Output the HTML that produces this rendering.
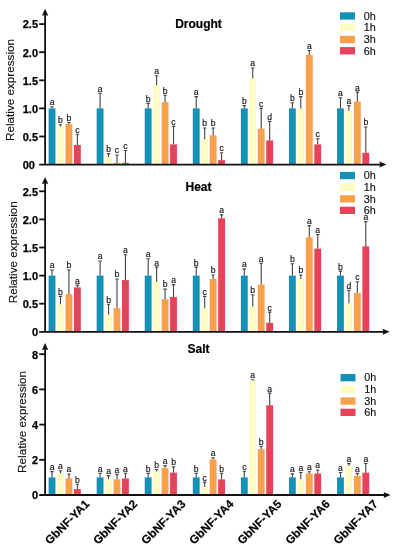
<!DOCTYPE html>
<html><head><meta charset="utf-8"><style>
html,body{margin:0;padding:0;background:#fff;width:398px;height:550px;overflow:hidden}
svg{display:block;will-change:transform}
text{font-family:"Liberation Sans",sans-serif}
.t{font-size:12px;font-weight:bold;text-anchor:middle;fill:#000;stroke:#000;stroke-width:0.2px}
.tk{font-size:11px;font-weight:bold;text-anchor:end;fill:#000;stroke:#000;stroke-width:0.25px}
.yl{font-size:11.7px;text-anchor:middle;fill:#111;stroke:#111;stroke-width:0.15px}
.xl{font-size:11.6px;font-weight:bold;text-anchor:end;fill:#000;stroke:#000;stroke-width:0.2px}
.lg{font-size:10.8px;fill:#111;stroke:#111;stroke-width:0.15px}
.l{font-size:8.6px;text-anchor:middle;fill:#111;stroke:#111;stroke-width:0.15px}
.e{stroke:#444;stroke-width:1.1;fill:none}
.ax{stroke:#111;stroke-width:1.8;fill:none}
.ah{fill:#111}
</style></head><body>
<svg width="398" height="550" viewBox="0 0 398 550">
<rect width="398" height="550" fill="#fff"/>
<text x="198.5" y="27.5" class="t">Drought</text>
<rect x="48.6" y="108.4" width="6.85" height="56.2" fill="#1591b6"/>
<path d="M52.02 108.4V106.71M50.32 106.71H53.73" class="e"/>
<text x="52.02" y="105.11" class="l">a</text>
<rect x="57.05" y="126.38" width="6.85" height="38.22" fill="#fefac3"/>
<path d="M60.47 126.38V124.7M58.77 124.7H62.17" class="e"/>
<text x="60.47" y="123.1" class="l">b</text>
<rect x="65.5" y="124.14" width="6.85" height="40.46" fill="#f9a04b"/>
<path d="M68.92 124.14V122.45M67.22 122.45H70.62" class="e"/>
<text x="68.92" y="120.85" class="l">b</text>
<rect x="73.95" y="144.93" width="6.85" height="19.67" fill="#e6435b"/>
<path d="M77.38 144.93V134.25M75.67 134.25H79.08" class="e"/>
<text x="77.38" y="132.65" class="l">c</text>
<rect x="96.67" y="108.4" width="6.85" height="56.2" fill="#1591b6"/>
<path d="M100.09 108.4V93.23M98.39 93.23H101.8" class="e"/>
<text x="100.09" y="91.63" class="l">a</text>
<rect x="105.12" y="156.96" width="6.85" height="7.64" fill="#fefac3"/>
<path d="M108.55 156.96V153.58M106.84 153.58H110.25" class="e"/>
<text x="108.55" y="151.98" class="l">b</text>
<rect x="113.57" y="162.91" width="6.85" height="1.69" fill="#f9a04b"/>
<path d="M116.99 162.91V155.05M115.29 155.05H118.69" class="e"/>
<text x="116.99" y="153.45" class="l">c</text>
<rect x="122.02" y="162.91" width="6.85" height="1.69" fill="#e6435b"/>
<path d="M125.44 162.91V150.55M123.74 150.55H127.14" class="e"/>
<text x="125.44" y="148.95" class="l">c</text>
<rect x="144.74" y="108.4" width="6.85" height="56.2" fill="#1591b6"/>
<path d="M148.17 108.4V103.34M146.47 103.34H149.87" class="e"/>
<text x="148.17" y="101.74" class="l">b</text>
<rect x="153.19" y="85.36" width="6.85" height="79.24" fill="#fefac3"/>
<path d="M156.62 85.36V75.8M154.92 75.8H158.31" class="e"/>
<text x="156.62" y="74.2" class="l">a</text>
<rect x="161.64" y="102.22" width="6.85" height="62.38" fill="#f9a04b"/>
<path d="M165.07 102.22V95.19M163.37 95.19H166.77" class="e"/>
<text x="165.07" y="93.59" class="l">b</text>
<rect x="170.09" y="144.37" width="6.85" height="20.23" fill="#e6435b"/>
<path d="M173.52 144.37V126.38M171.82 126.38H175.22" class="e"/>
<text x="173.52" y="124.78" class="l">c</text>
<rect x="192.81" y="108.4" width="6.85" height="56.2" fill="#1591b6"/>
<path d="M196.24 108.4V96.6M194.54 96.6H197.94" class="e"/>
<text x="196.24" y="95" class="l">a</text>
<rect x="201.26" y="139.31" width="6.85" height="25.29" fill="#fefac3"/>
<path d="M204.69 139.31V128.07M202.99 128.07H206.38" class="e"/>
<text x="204.69" y="126.47" class="l">b</text>
<rect x="209.71" y="135.38" width="6.85" height="29.22" fill="#f9a04b"/>
<path d="M213.14 135.38V128.07M211.44 128.07H214.84" class="e"/>
<text x="213.14" y="126.47" class="l">b</text>
<rect x="218.16" y="160.1" width="6.85" height="4.5" fill="#e6435b"/>
<path d="M221.59 160.1V152.8M219.89 152.8H223.28" class="e"/>
<text x="221.59" y="151.2" class="l">c</text>
<rect x="240.88" y="108.4" width="6.85" height="56.2" fill="#1591b6"/>
<path d="M244.31 108.4V105.59M242.61 105.59H246" class="e"/>
<text x="244.31" y="103.99" class="l">b</text>
<rect x="249.33" y="78.61" width="6.85" height="85.99" fill="#fefac3"/>
<path d="M252.75 78.61V67.94M251.06 67.94H254.45" class="e"/>
<text x="252.75" y="66.34" class="l">a</text>
<rect x="257.78" y="128.63" width="6.85" height="35.97" fill="#f9a04b"/>
<path d="M261.2 128.63V108.4M259.5 108.4H262.9" class="e"/>
<text x="261.2" y="106.8" class="l">c</text>
<rect x="266.23" y="140.43" width="6.85" height="24.17" fill="#e6435b"/>
<path d="M269.66 140.43V121.33M267.96 121.33H271.36" class="e"/>
<text x="269.66" y="119.73" class="l">d</text>
<rect x="288.95" y="108.4" width="6.85" height="56.2" fill="#1591b6"/>
<path d="M292.38 108.4V102.78M290.68 102.78H294.07" class="e"/>
<text x="292.38" y="101.18" class="l">b</text>
<rect x="297.4" y="108.4" width="6.85" height="56.2" fill="#fefac3"/>
<path d="M300.82 108.4V96.6M299.12 96.6H302.52" class="e"/>
<text x="300.82" y="95" class="l">b</text>
<rect x="305.85" y="55.01" width="6.85" height="109.59" fill="#f9a04b"/>
<path d="M309.27 55.01V50.51M307.57 50.51H310.97" class="e"/>
<text x="309.27" y="48.91" class="l">a</text>
<rect x="314.3" y="144.37" width="6.85" height="20.23" fill="#e6435b"/>
<path d="M317.73 144.37V138.75M316.03 138.75H319.43" class="e"/>
<text x="317.73" y="137.15" class="l">c</text>
<rect x="337.02" y="108.4" width="6.85" height="56.2" fill="#1591b6"/>
<path d="M340.45 108.4V97.72M338.75 97.72H342.15" class="e"/>
<text x="340.45" y="96.12" class="l">a</text>
<rect x="345.47" y="110.65" width="6.85" height="53.95" fill="#fefac3"/>
<path d="M348.9 110.65V105.59M347.2 105.59H350.6" class="e"/>
<text x="348.9" y="103.99" class="l">a</text>
<rect x="353.92" y="101.66" width="6.85" height="62.94" fill="#f9a04b"/>
<path d="M357.35 101.66V92.1M355.65 92.1H359.05" class="e"/>
<text x="357.35" y="90.5" class="l">a</text>
<rect x="362.37" y="152.8" width="6.85" height="11.8" fill="#e6435b"/>
<path d="M365.8 152.8V126.95M364.1 126.95H367.5" class="e"/>
<text x="365.8" y="125.35" class="l">b</text>
<path d="M45.1 165.35V13.7" class="ax"/>
<path d="M41.9 15.7L45.1 8.7L48.3 15.7L45.1 15Z" class="ah"/>
<path d="M39.2 164.6H381.4" class="ax"/>
<path d="M379.4 161.6L386.4 164.6L379.4 167.6L380.1 164.6Z" class="ah"/>
<text x="35" y="168.9" class="tk">00</text>
<path d="M39.2 136.5H45.1" class="ax"/>
<text x="38" y="140.8" class="tk">0.5</text>
<path d="M39.2 108.4H45.1" class="ax"/>
<text x="38" y="112.7" class="tk">1.0</text>
<path d="M39.2 80.3H45.1" class="ax"/>
<text x="38" y="84.6" class="tk">1.5</text>
<path d="M39.2 52.2H45.1" class="ax"/>
<text x="38" y="56.5" class="tk">2.0</text>
<path d="M39.2 24.1H45.1" class="ax"/>
<text x="38" y="28.4" class="tk">2.5</text>
<text transform="translate(14.2 90) rotate(-90)" class="yl">Relative expression</text>
<rect x="340" y="12.3" width="15" height="7.3" fill="#1591b6"/>
<text x="363.8" y="19.7" class="lg">0h</text>
<rect x="340" y="23.8" width="15" height="7.3" fill="#fefac3"/>
<text x="363.8" y="31.2" class="lg">1h</text>
<rect x="340" y="35.8" width="15" height="7.3" fill="#f9a04b"/>
<text x="363.8" y="43.2" class="lg">3h</text>
<rect x="340" y="47.1" width="15" height="7.3" fill="#e6435b"/>
<text x="363.8" y="54.5" class="lg">6h</text>
<text x="198.5" y="190.7" class="t">Heat</text>
<rect x="48.6" y="275.6" width="6.85" height="56.2" fill="#1591b6"/>
<path d="M52.02 275.6V269.98M50.32 269.98H53.73" class="e"/>
<text x="52.02" y="268.38" class="l">a</text>
<rect x="57.05" y="304.26" width="6.85" height="27.54" fill="#fefac3"/>
<path d="M60.47 304.26V296.39M58.77 296.39H62.17" class="e"/>
<text x="60.47" y="294.79" class="l">b</text>
<rect x="65.5" y="294.15" width="6.85" height="37.65" fill="#f9a04b"/>
<path d="M68.92 294.15V269.98M67.22 269.98H70.62" class="e"/>
<text x="68.92" y="268.38" class="l">b</text>
<rect x="73.95" y="287.4" width="6.85" height="44.4" fill="#e6435b"/>
<path d="M77.38 287.4V285.15M75.67 285.15H79.08" class="e"/>
<text x="77.38" y="283.55" class="l">a</text>
<rect x="96.67" y="275.6" width="6.85" height="56.2" fill="#1591b6"/>
<path d="M100.09 275.6V260.99M98.39 260.99H101.8" class="e"/>
<text x="100.09" y="259.39" class="l">a</text>
<rect x="105.12" y="314.38" width="6.85" height="17.42" fill="#fefac3"/>
<path d="M108.55 314.38V304.26M106.84 304.26H110.25" class="e"/>
<text x="108.55" y="302.66" class="l">b</text>
<rect x="113.57" y="308.2" width="6.85" height="23.6" fill="#f9a04b"/>
<path d="M116.99 308.2V278.97M115.29 278.97H118.69" class="e"/>
<text x="116.99" y="277.37" class="l">b</text>
<rect x="122.02" y="280.1" width="6.85" height="51.7" fill="#e6435b"/>
<path d="M125.44 280.1V254.81M123.74 254.81H127.14" class="e"/>
<text x="125.44" y="253.21" class="l">a</text>
<rect x="144.74" y="275.6" width="6.85" height="56.2" fill="#1591b6"/>
<path d="M148.17 275.6V258.74M146.47 258.74H149.87" class="e"/>
<text x="148.17" y="257.14" class="l">a</text>
<rect x="153.19" y="281.78" width="6.85" height="50.02" fill="#fefac3"/>
<path d="M156.62 281.78V267.17M154.92 267.17H158.31" class="e"/>
<text x="156.62" y="265.57" class="l">a</text>
<rect x="161.64" y="299.2" width="6.85" height="32.6" fill="#f9a04b"/>
<path d="M165.07 299.2V289.09M163.37 289.09H166.77" class="e"/>
<text x="165.07" y="287.49" class="l">b</text>
<rect x="170.09" y="296.96" width="6.85" height="34.84" fill="#e6435b"/>
<path d="M173.52 296.96V284.59M171.82 284.59H175.22" class="e"/>
<text x="173.52" y="282.99" class="l">a</text>
<rect x="192.81" y="275.6" width="6.85" height="56.2" fill="#1591b6"/>
<path d="M196.24 275.6V267.17M194.54 267.17H197.94" class="e"/>
<text x="196.24" y="265.57" class="l">b</text>
<rect x="201.26" y="308.2" width="6.85" height="23.6" fill="#fefac3"/>
<path d="M204.69 308.2V296.39M202.99 296.39H206.38" class="e"/>
<text x="204.69" y="294.79" class="l">c</text>
<rect x="209.71" y="278.97" width="6.85" height="52.83" fill="#f9a04b"/>
<path d="M213.14 278.97V275.04M211.44 275.04H214.84" class="e"/>
<text x="213.14" y="273.44" class="l">b</text>
<rect x="218.16" y="218.28" width="6.85" height="113.52" fill="#e6435b"/>
<path d="M221.59 218.28V214.9M219.89 214.9H223.28" class="e"/>
<text x="221.59" y="213.3" class="l">a</text>
<rect x="240.88" y="275.6" width="6.85" height="56.2" fill="#1591b6"/>
<path d="M244.31 275.6V268.86M242.61 268.86H246" class="e"/>
<text x="244.31" y="267.26" class="l">a</text>
<rect x="249.33" y="306.51" width="6.85" height="25.29" fill="#fefac3"/>
<path d="M252.75 306.51V294.71M251.06 294.71H254.45" class="e"/>
<text x="252.75" y="293.11" class="l">b</text>
<rect x="257.78" y="284.59" width="6.85" height="47.21" fill="#f9a04b"/>
<path d="M261.2 284.59V263.24M259.5 263.24H262.9" class="e"/>
<text x="261.2" y="261.64" class="l">a</text>
<rect x="266.23" y="322.81" width="6.85" height="8.99" fill="#e6435b"/>
<path d="M269.66 322.81V312.13M267.96 312.13H271.36" class="e"/>
<text x="269.66" y="310.53" class="l">c</text>
<rect x="288.95" y="275.6" width="6.85" height="56.2" fill="#1591b6"/>
<path d="M292.38 275.6V263.8M290.68 263.8H294.07" class="e"/>
<text x="292.38" y="262.2" class="l">b</text>
<rect x="297.4" y="278.97" width="6.85" height="52.83" fill="#fefac3"/>
<path d="M300.82 278.97V275.04M299.12 275.04H302.52" class="e"/>
<text x="300.82" y="273.44" class="l">b</text>
<rect x="305.85" y="237.38" width="6.85" height="94.42" fill="#f9a04b"/>
<path d="M309.27 237.38V225.58M307.57 225.58H310.97" class="e"/>
<text x="309.27" y="223.98" class="l">a</text>
<rect x="314.3" y="248.62" width="6.85" height="83.18" fill="#e6435b"/>
<path d="M317.73 248.62V234.57M316.03 234.57H319.43" class="e"/>
<text x="317.73" y="232.97" class="l">a</text>
<rect x="337.02" y="275.6" width="6.85" height="56.2" fill="#1591b6"/>
<path d="M340.45 275.6V271.1M338.75 271.1H342.15" class="e"/>
<text x="340.45" y="269.5" class="l">b</text>
<rect x="345.47" y="303.14" width="6.85" height="28.66" fill="#fefac3"/>
<path d="M348.9 303.14V290.21M347.2 290.21H350.6" class="e"/>
<text x="348.9" y="288.61" class="l">d</text>
<rect x="353.92" y="293.02" width="6.85" height="38.78" fill="#f9a04b"/>
<path d="M357.35 293.02V281.78M355.65 281.78H359.05" class="e"/>
<text x="357.35" y="280.18" class="l">c</text>
<rect x="362.37" y="246.38" width="6.85" height="85.42" fill="#e6435b"/>
<path d="M365.8 246.38V221.65M364.1 221.65H367.5" class="e"/>
<text x="365.8" y="220.05" class="l">a</text>
<path d="M45.1 332.55V182" class="ax"/>
<path d="M41.9 184L45.1 177L48.3 184L45.1 183.3Z" class="ah"/>
<path d="M39.2 331.8H384.6" class="ax"/>
<path d="M382.6 328.8L389.6 331.8L382.6 334.8L383.3 331.8Z" class="ah"/>
<text x="38" y="336.1" class="tk">0</text>
<path d="M39.2 303.7H45.1" class="ax"/>
<text x="38" y="308" class="tk">0.5</text>
<path d="M39.2 275.6H45.1" class="ax"/>
<text x="38" y="279.9" class="tk">1.0</text>
<path d="M39.2 247.5H45.1" class="ax"/>
<text x="38" y="251.8" class="tk">1.5</text>
<path d="M39.2 219.4H45.1" class="ax"/>
<text x="38" y="223.7" class="tk">2.0</text>
<path d="M39.2 191.3H45.1" class="ax"/>
<text x="38" y="195.6" class="tk">2.5</text>
<text transform="translate(16.9 252.2) rotate(-90)" class="yl">Relative expression</text>
<rect x="340" y="171.9" width="15" height="7.3" fill="#1591b6"/>
<text x="363.8" y="179.3" class="lg">0h</text>
<rect x="340" y="183.6" width="15" height="7.3" fill="#fefac3"/>
<text x="363.8" y="191" class="lg">1h</text>
<rect x="340" y="195.2" width="15" height="7.3" fill="#f9a04b"/>
<text x="363.8" y="202.6" class="lg">3h</text>
<rect x="340" y="206.7" width="15" height="7.3" fill="#e6435b"/>
<text x="363.8" y="214.1" class="lg">6h</text>
<text x="198.5" y="352.8" class="t">Salt</text>
<rect x="48.6" y="477.4" width="6.85" height="17.6" fill="#1591b6"/>
<path d="M52.02 477.4V471.59M50.32 471.59H53.73" class="e"/>
<text x="52.02" y="469.99" class="l">a</text>
<rect x="57.05" y="473.18" width="6.85" height="21.82" fill="#fefac3"/>
<path d="M60.47 473.18V470.71M58.77 470.71H62.17" class="e"/>
<text x="60.47" y="469.11" class="l">a</text>
<rect x="65.5" y="478.28" width="6.85" height="16.72" fill="#f9a04b"/>
<path d="M68.92 478.28V474.06M67.22 474.06H70.62" class="e"/>
<text x="68.92" y="472.46" class="l">a</text>
<rect x="73.95" y="489.02" width="6.85" height="5.98" fill="#e6435b"/>
<path d="M77.38 489.02V484.26M75.67 484.26H79.08" class="e"/>
<text x="77.38" y="482.66" class="l">b</text>
<rect x="96.67" y="477.4" width="6.85" height="17.6" fill="#1591b6"/>
<path d="M100.09 477.4V473.18M98.39 473.18H101.8" class="e"/>
<text x="100.09" y="471.58" class="l">a</text>
<rect x="105.12" y="479.34" width="6.85" height="15.66" fill="#fefac3"/>
<path d="M108.55 479.34V475.64M106.84 475.64H110.25" class="e"/>
<text x="108.55" y="474.04" class="l">a</text>
<rect x="113.57" y="479.34" width="6.85" height="15.66" fill="#f9a04b"/>
<path d="M116.99 479.34V474.41M115.29 474.41H118.69" class="e"/>
<text x="116.99" y="472.81" class="l">a</text>
<rect x="122.02" y="478.46" width="6.85" height="16.54" fill="#e6435b"/>
<path d="M125.44 478.46V473.18M123.74 473.18H127.14" class="e"/>
<text x="125.44" y="471.58" class="l">a</text>
<rect x="144.74" y="477.4" width="6.85" height="17.6" fill="#1591b6"/>
<path d="M148.17 477.4V473.35M146.47 473.35H149.87" class="e"/>
<text x="148.17" y="471.75" class="l">b</text>
<rect x="153.19" y="471.42" width="6.85" height="23.58" fill="#fefac3"/>
<path d="M156.62 471.42V469.48M154.92 469.48H158.31" class="e"/>
<text x="156.62" y="467.88" class="l">b</text>
<rect x="161.64" y="468.07" width="6.85" height="26.93" fill="#f9a04b"/>
<path d="M165.07 468.07V465.61M163.37 465.61H166.77" class="e"/>
<text x="165.07" y="464.01" class="l">a</text>
<rect x="170.09" y="472.65" width="6.85" height="22.35" fill="#e6435b"/>
<path d="M173.52 472.65V466.84M171.82 466.84H175.22" class="e"/>
<text x="173.52" y="465.24" class="l">b</text>
<rect x="192.81" y="477.4" width="6.85" height="17.6" fill="#1591b6"/>
<path d="M196.24 477.4V473.18M194.54 473.18H197.94" class="e"/>
<text x="196.24" y="471.58" class="l">b</text>
<rect x="201.26" y="487.08" width="6.85" height="7.92" fill="#fefac3"/>
<path d="M204.69 487.08V482.15M202.99 482.15H206.38" class="e"/>
<text x="204.69" y="480.55" class="l">c</text>
<rect x="209.71" y="459.45" width="6.85" height="35.55" fill="#f9a04b"/>
<path d="M213.14 459.45V457.69M211.44 457.69H214.84" class="e"/>
<text x="213.14" y="456.09" class="l">a</text>
<rect x="218.16" y="479.34" width="6.85" height="15.66" fill="#e6435b"/>
<path d="M221.59 479.34V473.18M219.89 473.18H223.28" class="e"/>
<text x="221.59" y="471.58" class="l">b</text>
<rect x="240.88" y="477.4" width="6.85" height="17.6" fill="#1591b6"/>
<path d="M244.31 477.4V471.24M242.61 471.24H246" class="e"/>
<text x="244.31" y="469.64" class="l">c</text>
<rect x="249.33" y="380.6" width="6.85" height="114.4" fill="#fefac3"/>
<path d="M252.75 380.6V379.72M251.06 379.72H254.45" class="e"/>
<text x="252.75" y="378.12" class="l">a</text>
<rect x="257.78" y="449.24" width="6.85" height="45.76" fill="#f9a04b"/>
<path d="M261.2 449.24V446.25M259.5 446.25H262.9" class="e"/>
<text x="261.2" y="444.65" class="l">b</text>
<rect x="266.23" y="405.24" width="6.85" height="89.76" fill="#e6435b"/>
<path d="M269.66 405.24V393.1M267.96 393.1H271.36" class="e"/>
<text x="269.66" y="391.5" class="l">a</text>
<rect x="288.95" y="477.4" width="6.85" height="17.6" fill="#1591b6"/>
<path d="M292.38 477.4V473.88M290.68 473.88H294.07" class="e"/>
<text x="292.38" y="472.28" class="l">a</text>
<rect x="297.4" y="479.16" width="6.85" height="15.84" fill="#fefac3"/>
<path d="M300.82 479.16V472.47M299.12 472.47H302.52" class="e"/>
<text x="300.82" y="470.87" class="l">a</text>
<rect x="305.85" y="473.53" width="6.85" height="21.47" fill="#f9a04b"/>
<path d="M309.27 473.53V471.77M307.57 471.77H310.97" class="e"/>
<text x="309.27" y="470.17" class="l">a</text>
<rect x="314.3" y="473.53" width="6.85" height="21.47" fill="#e6435b"/>
<path d="M317.73 473.53V470.01M316.03 470.01H319.43" class="e"/>
<text x="317.73" y="468.41" class="l">a</text>
<rect x="337.02" y="477.4" width="6.85" height="17.6" fill="#1591b6"/>
<path d="M340.45 477.4V472.47M338.75 472.47H342.15" class="e"/>
<text x="340.45" y="470.87" class="l">a</text>
<rect x="345.47" y="465.43" width="6.85" height="29.57" fill="#fefac3"/>
<path d="M348.9 465.43V463.67M347.2 463.67H350.6" class="e"/>
<text x="348.9" y="462.07" class="l">a</text>
<rect x="353.92" y="475.82" width="6.85" height="19.18" fill="#f9a04b"/>
<path d="M357.35 475.82V473.35M355.65 473.35H359.05" class="e"/>
<text x="357.35" y="471.75" class="l">a</text>
<rect x="362.37" y="472.65" width="6.85" height="22.35" fill="#e6435b"/>
<path d="M365.8 472.65V463.5M364.1 463.5H367.5" class="e"/>
<text x="365.8" y="461.9" class="l">a</text>
<path d="M45.1 495.75V348" class="ax"/>
<path d="M41.9 350L45.1 343L48.3 350L45.1 349.3Z" class="ah"/>
<path d="M39.2 495H385.6" class="ax"/>
<path d="M383.6 492L390.6 495L383.6 498L384.3 495Z" class="ah"/>
<text x="38" y="499.3" class="tk">0</text>
<path d="M39.2 459.8H45.1" class="ax"/>
<text x="38" y="464.1" class="tk">2</text>
<path d="M39.2 424.6H45.1" class="ax"/>
<text x="38" y="428.9" class="tk">4</text>
<path d="M39.2 389.4H45.1" class="ax"/>
<text x="38" y="393.7" class="tk">6</text>
<path d="M39.2 354.2H45.1" class="ax"/>
<text x="38" y="358.5" class="tk">8</text>
<text transform="translate(25.7 421.9) rotate(-90)" class="yl">Relative expression</text>
<rect x="340.5" y="374" width="15" height="7.3" fill="#1591b6"/>
<text x="364.3" y="381.4" class="lg">0h</text>
<rect x="340.5" y="385.7" width="15" height="7.3" fill="#fefac3"/>
<text x="364.3" y="393.1" class="lg">1h</text>
<rect x="340.5" y="397.4" width="15" height="7.3" fill="#f9a04b"/>
<text x="364.3" y="404.8" class="lg">3h</text>
<rect x="340.5" y="408.7" width="15" height="7.3" fill="#e6435b"/>
<text x="364.3" y="416.1" class="lg">6h</text>
<text transform="translate(90.1 504.8) rotate(-45)" class="xl">GbNF-YA1</text>
<text transform="translate(138.17 504.8) rotate(-45)" class="xl">GbNF-YA2</text>
<text transform="translate(186.24 504.8) rotate(-45)" class="xl">GbNF-YA3</text>
<text transform="translate(234.31 504.8) rotate(-45)" class="xl">GbNF-YA4</text>
<text transform="translate(282.38 504.8) rotate(-45)" class="xl">GbNF-YA5</text>
<text transform="translate(330.45 504.8) rotate(-45)" class="xl">GbNF-YA6</text>
<text transform="translate(378.52 504.8) rotate(-45)" class="xl">GbNF-YA7</text>
</svg>
</body></html>
